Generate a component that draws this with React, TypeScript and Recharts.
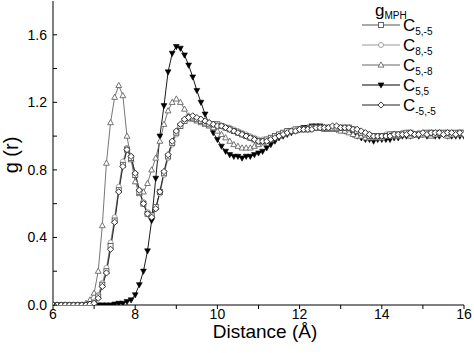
import React from 'react'
import { LineChart, Line, XAxis, YAxis } from 'recharts'

// distance in angstrom, 0.1 step
const distance = [
  6.0, 6.1, 6.2, 6.3, 6.4, 6.5, 6.6, 6.7, 6.8, 6.9,
  7.0, 7.1, 7.2, 7.3, 7.4, 7.5, 7.6, 7.7, 7.8, 7.9,
  8.0, 8.1, 8.2, 8.3, 8.4, 8.5, 8.6, 8.7, 8.8, 8.9,
  9.0, 9.1, 9.2, 9.3, 9.4, 9.5, 9.6, 9.7, 9.8, 9.9,
  10.0, 10.1, 10.2, 10.3, 10.4, 10.5, 10.6, 10.7, 10.8, 10.9,
  11.0, 11.1, 11.2, 11.3, 11.4, 11.5, 11.6, 11.7, 11.8, 11.9,
  12.0, 12.1, 12.2, 12.3, 12.4, 12.5, 12.6, 12.7, 12.8, 12.9,
  13.0, 13.1, 13.2, 13.3, 13.4, 13.5, 13.6, 13.7, 13.8, 13.9,
  14.0, 14.1, 14.2, 14.3, 14.4, 14.5, 14.6, 14.7, 14.8, 14.9,
  15.0, 15.1, 15.2, 15.3, 15.4, 15.5, 15.6, 15.7, 15.8, 15.9,
  16.0,
]

const c5m5 = [
  0, 0, 0, 0, 0, 0, 0, 0, 0, 0.005,
  0.01, 0.05, 0.12, 0.2, 0.35, 0.5, 0.68, 0.83, 0.92, 0.87,
  0.77, 0.67, 0.6, 0.54, 0.53, 0.58, 0.67, 0.78, 0.88, 0.96,
  1.02, 1.06, 1.09, 1.11, 1.11, 1.1, 1.09, 1.08, 1.07, 1.07,
  1.07, 1.06, 1.05, 1.04, 1.03, 1.02, 1.01, 1.0, 0.99, 0.98,
  0.97, 0.97, 0.98, 0.99, 1.0, 1.01, 1.02, 1.03, 1.03, 1.04,
  1.04, 1.04, 1.04, 1.05, 1.05, 1.05, 1.05, 1.05, 1.05, 1.05,
  1.05, 1.05, 1.05, 1.04, 1.03, 1.02, 1.01, 1.0, 1.0, 1.0,
  1.0, 1.0, 1.01, 1.01, 1.01, 1.01, 1.02, 1.02, 1.01, 1.01,
  1.01, 1.02, 1.02, 1.01, 1.02, 1.02, 1.02, 1.01, 1.02, 1.02,
  1.02,
]

const c8m5 = [
  0, 0, 0, 0, 0, 0, 0, 0, 0, 0.005,
  0.02, 0.06, 0.13, 0.22, 0.37, 0.52, 0.7, 0.85, 0.93, 0.88,
  0.78, 0.68, 0.61, 0.55, 0.53, 0.57, 0.66, 0.77, 0.87, 0.95,
  1.01, 1.06, 1.09, 1.1, 1.11, 1.1, 1.1, 1.09, 1.08, 1.07,
  1.07, 1.06, 1.05, 1.05, 1.04, 1.03, 1.02, 1.01, 1.0, 0.99,
  0.98, 0.98, 0.98, 0.99, 1.0, 1.01, 1.02, 1.02, 1.03, 1.03,
  1.04, 1.04, 1.04, 1.04, 1.05, 1.05, 1.05, 1.05, 1.05, 1.05,
  1.05, 1.05, 1.04, 1.04, 1.03, 1.02, 1.01, 1.01, 1.0, 1.0,
  1.0, 1.01, 1.01, 1.01, 1.01, 1.02, 1.02, 1.01, 1.01, 1.02,
  1.02, 1.02, 1.01, 1.02, 1.02, 1.02, 1.01, 1.02, 1.02, 1.02,
  1.02,
]

const c5m8 = [
  0, 0, 0, 0, 0, 0, 0, 0, 0.01, 0.03,
  0.07, 0.2, 0.47, 0.84, 1.08, 1.23, 1.3, 1.24, 1.0, 0.86,
  0.73, 0.66, 0.67, 0.72, 0.8, 0.87, 0.97, 1.07, 1.15, 1.2,
  1.22, 1.2, 1.16, 1.12, 1.1, 1.09, 1.08, 1.07, 1.06, 1.05,
  1.03, 1.01, 0.99, 0.97, 0.95, 0.94, 0.93, 0.93, 0.93, 0.94,
  0.95, 0.96, 0.97, 0.98, 0.99, 1.0, 1.01, 1.02, 1.03, 1.03,
  1.04, 1.04, 1.05, 1.05, 1.05, 1.05, 1.04, 1.04, 1.04, 1.04,
  1.03, 1.03, 1.02, 1.01, 1.0, 1.0, 0.99, 0.99, 0.99, 0.99,
  0.99, 1.0, 1.0, 1.0, 1.0, 1.01, 1.01, 1.0, 1.01, 1.01,
  1.01, 1.01, 1.0, 1.01, 1.01, 1.01, 1.0, 1.01, 1.01, 1.01,
  1.01,
]

const c55 = [
  0, 0, 0, 0, 0, 0, 0, 0, 0, 0,
  0, 0, 0, 0, 0, 0.005, 0.01, 0.01, 0.02, 0.03,
  0.06, 0.12, 0.2, 0.32, 0.5, 0.75, 1.0, 1.18, 1.38, 1.49,
  1.53, 1.52, 1.48, 1.42, 1.35, 1.27, 1.2, 1.13, 1.07, 1.02,
  0.98, 0.94, 0.91, 0.89, 0.88, 0.88, 0.87, 0.88, 0.88, 0.89,
  0.9, 0.91, 0.93, 0.95, 0.97, 0.99, 1.0, 1.01, 1.02, 1.03,
  1.04, 1.05, 1.05, 1.06, 1.06, 1.06, 1.05, 1.05, 1.05, 1.04,
  1.04, 1.03, 1.03, 1.01, 1.0, 0.99, 0.98, 0.98, 0.97, 0.98,
  0.98, 0.98, 0.98, 0.99, 0.99, 1.0, 1.0, 1.0, 1.01, 1.0,
  1.01, 1.0, 1.01, 1.0, 1.0, 1.01, 1.0, 1.0, 1.0, 1.0,
  1.0,
]

const cm5m5 = [
  0, 0, 0, 0, 0, 0, 0, 0, 0, 0.005,
  0.01, 0.04, 0.11, 0.19, 0.33, 0.49, 0.67, 0.82, 0.92, 0.88,
  0.78, 0.68, 0.6, 0.54, 0.52, 0.57, 0.67, 0.79, 0.89, 0.97,
  1.03, 1.07, 1.1, 1.11, 1.12, 1.11, 1.1, 1.09, 1.08, 1.07,
  1.06, 1.06, 1.05, 1.04, 1.03, 1.02, 1.01, 1.0, 0.99, 0.98,
  0.97, 0.97, 0.97, 0.98, 0.99, 1.0, 1.01, 1.02, 1.03, 1.03,
  1.04, 1.04, 1.04, 1.04, 1.05, 1.05, 1.05, 1.05, 1.06, 1.06,
  1.05, 1.05, 1.05, 1.04, 1.04, 1.03, 1.02, 1.01, 1.0, 1.0,
  1.0, 1.0, 1.0, 1.01, 1.01, 1.01, 1.01, 1.02, 1.01, 1.01,
  1.02, 1.01, 1.02, 1.02, 1.02, 1.01, 1.02, 1.02, 1.01, 1.02,
  1.01,
]

const xTicks = [6, 7, 8, 9, 10, 11, 12, 13, 14, 15, 16]
const yTicks = [0, 0.2, 0.4, 0.6, 0.8, 1.0, 1.2, 1.4, 1.6]

const data = distance.map((d, i) => ({
  d,
  c5m5: c5m5[i],
  c8m5: c8m5[i],
  c5m8: c5m8[i],
  c55: c55[i],
  cm5m5: cm5m5[i],
}))

const FONT = '"Liberation Sans", Arial, sans-serif'

type Shape = 'square' | 'circle' | 'up' | 'down' | 'diamond'

function Marker({ shape, cx, cy, stroke, s = 2.5 }: { shape: Shape; cx: number; cy: number; stroke: string; s?: number }) {
  if (shape === 'square')
    return <rect x={cx - s} y={cy - s} width={2 * s} height={2 * s} fill="#fff" stroke={stroke} strokeWidth={0.9} />
  if (shape === 'circle')
    return <circle cx={cx} cy={cy} r={s} fill="#fff" stroke={stroke} strokeWidth={0.9} />
  if (shape === 'up')
    return (
      <polygon
        points={`${cx},${cy - s - 0.6} ${cx + s + 0.4},${cy + s - 0.4} ${cx - s - 0.4},${cy + s - 0.4}`}
        fill="#fff"
        stroke={stroke}
        strokeWidth={0.9}
      />
    )
  if (shape === 'down')
    return (
      <polygon
        points={`${cx},${cy + s + 0.6} ${cx + s + 0.4},${cy - s + 0.4} ${cx - s - 0.4},${cy - s + 0.4}`}
        fill={stroke}
        stroke={stroke}
        strokeWidth={0.6}
      />
    )
  return (
    <polygon
      points={`${cx},${cy - s - 0.6} ${cx + s + 0.6},${cy} ${cx},${cy + s + 0.6} ${cx - s - 0.6},${cy}`}
      fill="#fff"
      stroke={stroke}
      strokeWidth={0.9}
    />
  )
}

const dotFor = (shape: Shape, stroke: string) => (props: any) => {
  const { cx, cy, index } = props
  if (cx == null || cy == null) return <g key={`e-${index}`} />
  return <Marker key={`${shape}-${index}`} shape={shape} cx={cx} cy={cy} stroke={stroke} />
}

const series = [
  { key: 'c55', shape: 'down' as Shape, color: '#000', label: '5,5' },
  { key: 'c5m8', shape: 'up' as Shape, color: '#666', label: '5,-8' },
  { key: 'c8m5', shape: 'circle' as Shape, color: '#999', label: '8,-5' },
  { key: 'c5m5', shape: 'square' as Shape, color: '#555', label: '5,-5' },
  { key: 'cm5m5', shape: 'diamond' as Shape, color: '#222', label: '-5,-5' },
]

const legendOrder = ['c5m5', 'c8m5', 'c5m8', 'c55', 'cm5m5']

const YTick = (props: any) => {
  const { x, y, payload } = props
  const v = payload.value
  const major = Math.abs(Math.round(v * 10) % 4) === 0
  return (
    <g>
      <line x1={x + 6} x2={x + 10} y1={y} y2={y} stroke="#000" strokeWidth={1} />
      {major && (
        <text x={x} y={y} dy={5} textAnchor="end" fontSize={14} fontFamily={FONT} fill="#000">
          {v.toFixed(1)}
        </text>
      )}
    </g>
  )
}

const XTick = (props: any) => {
  const { x, y, payload } = props
  const v = payload.value
  return (
    <g>
      <line x1={x} x2={x} y1={y - 5} y2={y - 1} stroke="#000" strokeWidth={1} />
      {v % 2 === 0 && (
        <text x={x} y={y} dy={9} textAnchor="middle" fontSize={14} fontFamily={FONT} fill="#000">
          {v}
        </text>
      )}
    </g>
  )
}

function LegendBox() {
  return (
    <svg width={120} height={120} style={{ position: 'absolute', left: 354, top: 0 }}>
      <text x={21} y={16} fontSize={17} fontFamily={FONT} fill="#000">
        g<tspan fontSize={10} dy={3}>MPH</tspan>
      </text>
      {legendOrder.map((k, i) => {
        const s = series.find((e) => e.key === k)!
        const y = 25 + i * 20
        return (
          <g key={k}>
            <line x1={8} x2={46} y1={y} y2={y} stroke={s.color} strokeWidth={1} />
            <Marker shape={s.shape} cx={27} cy={y} stroke={s.color} />
            <text x={49} y={y + 6} fontSize={17} fontFamily={FONT} fill="#000">
              C<tspan fontSize={10} dy={4}>{s.label}</tspan>
            </text>
          </g>
        )
      })}
    </svg>
  )
}

export default function App() {
  return (
    <div style={{ position: 'absolute', left: 0, top: 0, width: 474, height: 353, background: '#fff' }}>
      <LineChart width={474} height={353} data={data} margin={{ top: 1, right: 10, bottom: 0, left: 1 }}>
        <XAxis
          dataKey="d"
          type="number"
          domain={[6, 16]}
          ticks={xTicks}
          tick={<XTick />}
          tickLine={false}
          tickSize={0}
          tickMargin={5}
          height={48}
          stroke="#000"
          allowDataOverflow
        />
        <YAxis
          type="number"
          domain={[0, 1.8]}
          ticks={yTicks}
          tick={<YTick />}
          tickLine={false}
          tickSize={0}
          tickMargin={6}
          width={52}
          stroke="#000"
          allowDataOverflow
        />
        {series.map((s) => (
          <Line
            key={s.key}
            dataKey={s.key}
            type="linear"
            stroke={s.color}
            strokeWidth={0.9}
            dot={dotFor(s.shape, s.color)}
            activeDot={false}
            isAnimationActive={false}
          />
        ))}
      </LineChart>
      <div
        style={{
          position: 'absolute',
          left: 0,
          top: 322,
          width: 474,
          paddingLeft: 56,
          boxSizing: 'border-box',
          textAlign: 'center',
          fontFamily: FONT,
          fontSize: 19,
          lineHeight: '19px',
          color: '#000',
        }}
      >
        Distance (Å)
      </div>
      <div
        style={{
          position: 'absolute',
          left: 11,
          top: 155,
          transform: 'translate(-50%, -50%) rotate(-90deg)',
          fontFamily: FONT,
          fontSize: 20,
          lineHeight: '20px',
          whiteSpace: 'nowrap',
          color: '#000',
        }}
      >
        g (r)
      </div>
      <LegendBox />
    </div>
  )
}
